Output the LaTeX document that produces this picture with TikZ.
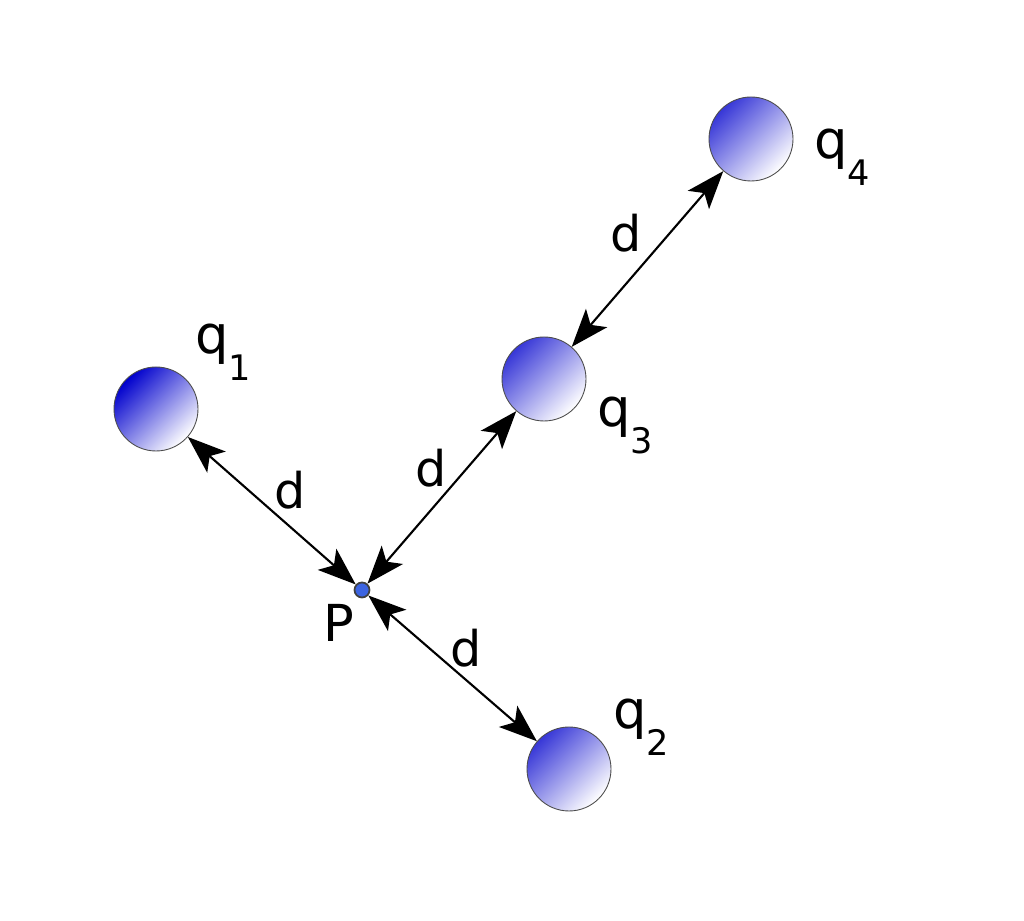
\documentclass[tikz,border=0pt]{standalone}
\usepackage{fontspec}
\setmainfont{DejaVu Sans}
\usetikzlibrary{arrows.meta}
\def\chargeSize{16.8mm}
\def\pointSize{3mm}
\definecolor{chargeDeep}{RGB}{0,0,205}
\definecolor{chargeBlue}{RGB}{55,55,215}
\definecolor{pointBlue}{RGB}{60,100,225}
\newcommand{\chargeName}[1]{q\raisebox{-15pt}{\fontsize{20}{20}\selectfont #1}}
\tikzset{
  chargeNode/.style={
    draw=black!70,
    line width=0.5pt,
    circle,
    inner sep=0pt,
    minimum size=\chargeSize,
    top color=#1,
    bottom color=white,
    shading angle=45
  },
  chargeNode/.default=chargeBlue,
  pointNode/.style={
    draw=black!75,
    fill=pointBlue,
    circle,
    inner sep=0pt,
    minimum size=\pointSize,
    line width=1pt
  },
  distArrow/.style={
    {Stealth[length=7.6mm,width=5.6mm,inset=1.8mm]}-{Stealth[length=7.6mm,width=5.6mm,inset=1.8mm]},
    line width=1.2pt
  },
  nameLabel/.style={font=\fontsize{30}{32}\selectfont, inner sep=0pt, anchor=base west},
  distLabel/.style={font=\fontsize{28}{30}\selectfont, inner sep=0pt}
}

\begin{document}
\begin{tikzpicture}
    \useasboundingbox (0,0) rectangle (20.48,18.42);

    % charges and the point
    \node[chargeNode=chargeDeep] (q1) at (3.12,10.24) {};
    \node[chargeNode] (q2) at (11.38,3.04) {};
    \node[chargeNode] (q3) at (10.88,10.84) {};
    \node[chargeNode] (q4) at (15.02,15.64) {};
    \node[pointNode] (P) at (7.24,6.62) {};

    % distances
    \draw[distArrow] (q1) -- (P);
    \draw[distArrow] (P) -- (q3);
    \draw[distArrow] (q3) -- (q4);
    \draw[distArrow] (P) -- (q2);

    \node[distLabel] (d1) at (5.80,8.62) {d};
    \node[distLabel] (d2) at (8.62,9.06) {d};
    \node[distLabel] (d3) at (12.52,13.76) {d};
    \node[distLabel] (d4) at (9.32,5.46) {d};

    % names
    \node[nameLabel] (q1Name) at (3.90,11.34) {\chargeName{1}};
    \node[nameLabel] (q2Name) at (12.26,3.84) {\chargeName{2}};
    \node[nameLabel] (q3Name) at (11.94,9.88) {\chargeName{3}};
    \node[nameLabel] (q4Name) at (16.28,15.24) {\chargeName{4}};
    \node[nameLabel,font=\fontsize{29}{31}\selectfont] (PName) at (6.46,5.58) {P};
\end{tikzpicture}
\end{document}
